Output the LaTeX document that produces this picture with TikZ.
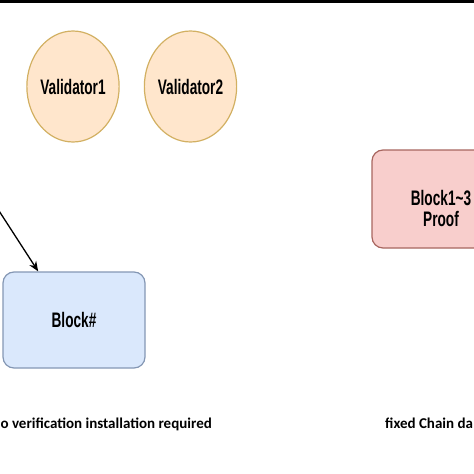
\documentclass[tikz,border=0pt]{standalone}
\usepackage{fontspec}
\usepackage{tikz}
\usepackage{xcolor}
\usetikzlibrary{calc,arrows.meta,shapes.geometric}
\newfontfamily\labelfont[FakeStretch=0.65]{Liberation Sans}
\newfontfamily\notefont{Carlito}
\definecolor{val_fill}{HTML}{FFE6CC}
\definecolor{val_line}{HTML}{D2B062}
\definecolor{blk_fill}{HTML}{DAE8FC}
\definecolor{blk_line}{HTML}{8497B4}
\definecolor{prf_fill}{HTML}{F8CECC}
\definecolor{prf_line}{HTML}{A8665F}
\tikzset{
    validator_node/.style={ellipse,draw=val_line,fill=val_fill,line width=1.2pt,
        minimum width=76pt,minimum height=111pt,inner sep=0pt,
        font=\labelfont\bfseries\fontsize{21}{21}\selectfont},
    block_node/.style={rectangle,rounded corners=11pt,line width=1.2pt,
        minimum width=142pt,minimum height=96pt,align=center,
        font=\labelfont\bfseries\fontsize{21}{21}\selectfont},
    note_text/.style={inner sep=0pt,font=\notefont\bfseries\fontsize{15}{18}\selectfont},
    flow_arrow/.style={-{Stealth[length=10pt,width=8pt]},line width=1.3pt},
}

\begin{document}
\begin{tikzpicture}[x=1pt,y=-1pt]
  \useasboundingbox (0,0) rectangle (474,474);
  \clip (0,0) rectangle (474,474);
  \fill[black] (0,0) rectangle (474,3);
  % validators
  \node[validator_node] (val1) at (73,86.5) {Validator1};
  \node[validator_node] (val2) at (190.5,86.5) {Validator2};
  % blocks
  \node[block_node,draw=blk_line,fill=blk_fill] (blk) at (74,320) {Block\#};
  \node[block_node,draw=prf_line,fill=prf_fill,minimum height=98pt] (proof) at (443,199) {};
  \node[block_node,minimum width=0pt,minimum height=0pt,inner sep=0pt] (proof_txt)
    at ($(proof.center)+(-2,9)$) {Block1\textasciitilde3\\Proof};
  % incoming connector
  \coordinate (src) at (-20,181.5);
  \draw[flow_arrow] (src) -- ($(blk.north west)!0.25!(blk.north east)$);
  % notes
  \node[note_text,anchor=base east] (note1) at (212,428) {o verification installation required};
  \node[note_text,anchor=base west] (note2) at (385,428) {fixed Chain da};
\end{tikzpicture}
\end{document}
